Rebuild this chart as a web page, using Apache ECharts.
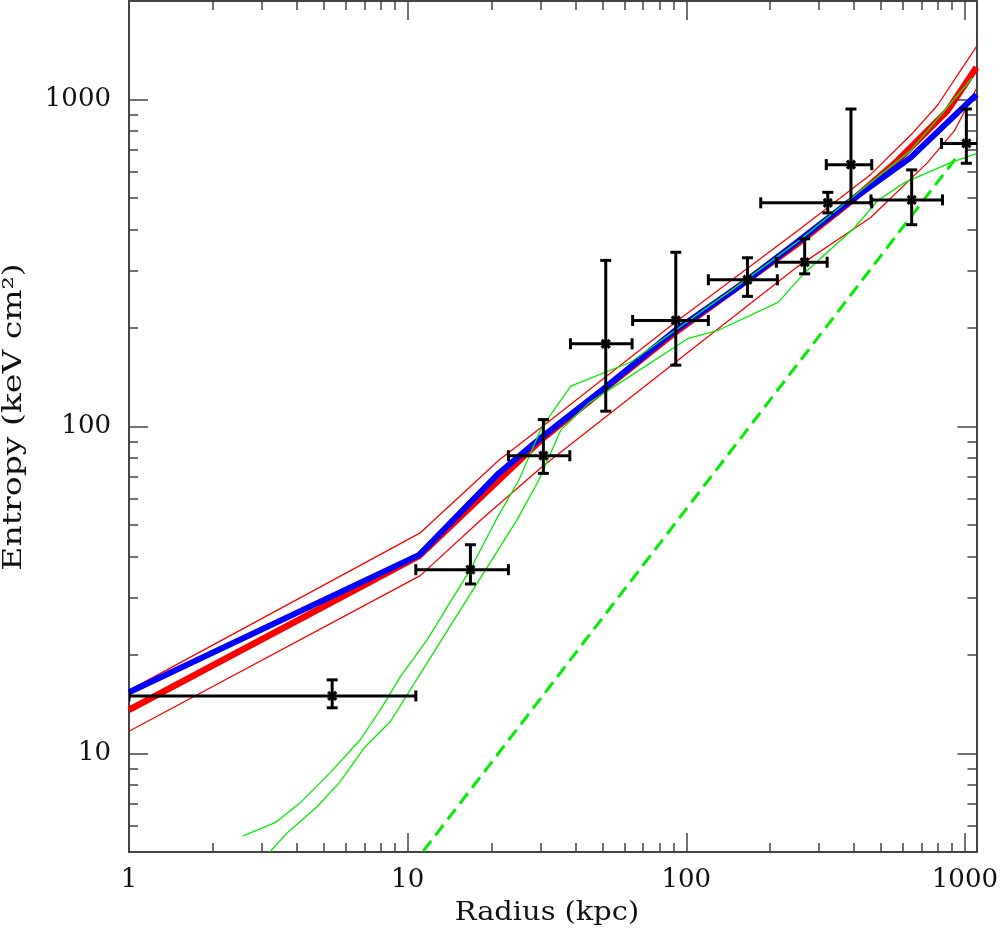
<!DOCTYPE html>
<html>
<head>
<meta charset="utf-8">
<script src="https://cdn.jsdelivr.net/npm/echarts@6/dist/echarts.min.js"></script>
<style>
html,body{margin:0;padding:0;background:#fff;}
#chart{width:1001px;height:930px;}
</style>
</head>
<body>
<div id="chart"></div>
<script>
// ---------- data ----------
const xRange = [1, 1100];
const yRange = [5, 2000];
const xMajorTicks = [1, 10, 100, 1000];
const xMinorTicks = [2,3,4,5,6,7,8,9,20,30,40,50,60,70,80,90,200,300,400,500,600,700,800,900];
const yMajorTicks = [10, 100, 1000];
const yMinorTicks = [6,7,8,9,20,30,40,50,60,70,80,90,200,300,400,500,600,700,800,900];
const xTitle = 'Radius (kpc)';
const yTitle = 'Entropy (keV cm²)';

// observed points: radius, entropy, radius low/high, entropy low/high
const obsR    = [5.36, 16.8, 30.7, 51.4, 91.7, 165.8, 266, 322, 390, 644, 1012];
const obsK    = [15.0, 36.5, 81.4, 179, 211, 281, 318, 483, 632, 493, 734];
const obsRlo  = [1.0, 10.7, 23.0, 38.4, 64.2, 120, 210.6, 185, 318, 460, 824];
const obsRhi  = [10.7, 23.0, 38.2, 63.9, 120, 212.3, 320.4, 463, 463, 831, 1117];
const obsKlo  = [13.8, 33.0, 71.9, 111.4, 154, 250, 293, 450, 485, 414, 638];
const obsKhi  = [16.8, 43.5, 105, 322, 341, 328, 375, 520, 935, 609, 935];

// model (thick blue)
const blueR = [1, 11.0, 21.3, 30.3, 51.4, 91.4, 153.6, 251.7, 389.5, 638.4, 1100];
const blueK = [15.4, 40.5, 72.1, 92.8, 131.9, 196.9, 266.9, 367.9, 490.8, 663.8, 1035];
// model (thick red) and its band
const redR = [1, 11.0, 30.3, 91.4, 251.7, 389.5, 573.6, 865.9, 1100];
const redK = [13.6, 40.2, 91.5, 194.1, 362.8, 487.3, 650, 923.6, 1255];
const redUpR = [1, 11.1, 21.3, 30.3, 91.4, 251.7, 459.2, 650, 797.3, 1100];
const redUpK = [15.6, 47.3, 79.0, 99.6, 208.2, 397.5, 590, 790, 960, 1450];
const redLoR = [1, 11.1, 18.3, 30.3, 91.4, 251.7, 459.2, 734.1, 917.4, 1100];
const redLoK = [11.7, 35.0, 51.8, 75.2, 157.2, 308.8, 435.5, 641, 802.6, 1080];
// green thin profiles
const greenAR = [2.56, 3.36, 4.13, 5.29, 6.77, 7.99, 9.42, 11.76, 16.76, 20.76, 25.08, 30.33, 38.5, 63.1, 91.4, 153.6, 251.7, 389.5, 638.4, 1063];
const greenAK = [5.59, 6.16, 7.09, 8.76, 11.04, 13.63, 17.19, 22.29, 36.46, 51.8, 68.6, 99.6, 132.8, 157.2, 196.9, 270.1, 367.9, 497.7, 697.5, 1165];
const greenBR = [3.2, 3.71, 4.75, 5.74, 7.0, 8.67, 11.76, 24.69, 29.58, 35.45, 44.66, 101.7, 130.2, 213.5, 266.7, 402.5, 486.4, 607.6, 887.7, 1100];
const greenBK = [5.0, 5.74, 6.90, 8.22, 10.44, 12.53, 18.97, 51.8, 68.6, 97.5, 117.9, 186.1, 196.9, 239.7, 295.9, 406, 490.8, 556.9, 641, 683];
// baseline (dashed green)
const baseR = [11.38, 953.5];
const baseK = [5.03, 681.5];

// ---------- chart ----------
const FONT = 'DejaVu Serif';
const AX = '#444';
const zip = (a, b) => a.map((v, i) => [v, b[i]]);
const obsData = obsR.map((r, i) => [r, obsK[i], obsRlo[i], obsRhi[i], obsKlo[i], obsKhi[i]]);

function logAxis(extra, range) {
  return Object.assign({
    type: 'log', logBase: 10, min: range[0], max: range[1],
    splitLine: {show: false},
    axisLine: {show: false},
    axisLabel: {show: false},
    axisTick: {show: false}
  }, extra);
}
function majorTick(vals) { return {show: true, inside: true, length: 19, customValues: vals, lineStyle: {color: AX, width: 1.5}}; }
function minorTick(vals) { return {show: true, inside: true, length: 9, customValues: vals, lineStyle: {color: AX, width: 1.5}}; }
const lbl = {fontFamily: FONT, fontSize: 26, color: '#111'};

const option = {
  animation: false,
  backgroundColor: '#fff',
  grid: {left: 129, right: 21, top: 1, bottom: 78, containLabel: false},
  graphic: [
    {type: 'text', x: 547, y: 913, scaleX: 1.11, silent: true,
     style: {text: xTitle, font: '26px "DejaVu Serif"', fill: '#111', align: 'center', verticalAlign: 'middle'}},
    {type: 'text', x: 14, y: 417, rotation: Math.PI / 2, scaleX: 1.27, silent: true,
     style: {text: yTitle, font: '26px "DejaVu Serif"', fill: '#111', align: 'center', verticalAlign: 'middle'}}
  ],
  xAxis: [
    logAxis({
      position: 'bottom',
      axisLine: {show: true, onZero: false, lineStyle: {color: AX, width: 2}},
      axisTick: majorTick(xMajorTicks),
      axisLabel: Object.assign({show: true, customValues: xMajorTicks, margin: 15, formatter: v => String(v)}, lbl)
    }, xRange),
    logAxis({position: 'bottom', axisTick: minorTick(xMinorTicks)}, xRange),
    logAxis({position: 'top', axisLine: {show: true, onZero: false, lineStyle: {color: AX, width: 2}}, axisTick: majorTick(xMajorTicks)}, xRange),
    logAxis({position: 'top', axisTick: minorTick(xMinorTicks)}, xRange)
  ],
  yAxis: [
    logAxis({
      position: 'left',
      axisLine: {show: true, onZero: false, lineStyle: {color: AX, width: 2}},
      axisTick: majorTick(yMajorTicks),
      axisLabel: Object.assign({show: true, customValues: yMajorTicks, margin: 18, formatter: v => String(v)}, lbl)
    }, yRange),
    logAxis({position: 'left', axisTick: minorTick(yMinorTicks)}, yRange),
    logAxis({position: 'right', axisLine: {show: true, onZero: false, lineStyle: {color: AX, width: 2}}, axisTick: majorTick(yMajorTicks)}, yRange),
    logAxis({position: 'right', axisTick: minorTick(yMinorTicks)}, yRange)
  ],
  series: [
    {type: 'line', name: 'redUp', data: zip(redUpR, redUpK), showSymbol: false, symbol: 'none', clip: true, z: 2,
     lineStyle: {color: '#ff0000', width: 1.3}},
    {type: 'line', name: 'redLo', data: zip(redLoR, redLoK), showSymbol: false, symbol: 'none', clip: true, z: 2,
     lineStyle: {color: '#ff0000', width: 1.3}},
    {type: 'line', name: 'red', data: zip(redR, redK), showSymbol: false, symbol: 'none', clip: true, z: 3,
     lineStyle: {color: '#ff0000', width: 6.5}},
    {type: 'line', name: 'blue', data: zip(blueR, blueK), showSymbol: false, symbol: 'none', clip: true, z: 4,
     lineStyle: {color: '#0000ff', width: 6}},
    {type: 'line', name: 'greenA', data: zip(greenAR, greenAK), showSymbol: false, symbol: 'none', clip: true, z: 5,
     lineStyle: {color: '#00ee00', width: 1.3}},
    {type: 'line', name: 'greenB', data: zip(greenBR, greenBK), showSymbol: false, symbol: 'none', clip: true, z: 5,
     lineStyle: {color: '#00ee00', width: 1.3}},
    {type: 'line', name: 'baseline', data: zip(baseR, baseK), showSymbol: false, symbol: 'none', clip: true, z: 5,
     lineStyle: {color: '#00ee00', width: 3, type: [13, 7]}},
    {type: 'custom', name: 'observed', data: obsData, clip: true, z: 6,
     renderItem: function (params, api) {
       const x = api.value(0), y = api.value(1);
       const c = api.coord([x, y]);
       const l = api.coord([api.value(2), y]);
       const r = api.coord([api.value(3), y]);
       const b = api.coord([x, api.value(4)]);
       const t = api.coord([x, api.value(5)]);
       const cap = 5.5, s = 4;
       const st = {stroke: '#000', lineWidth: 3};
       const ln = (x1, y1, x2, y2, w) => ({type: 'line', shape: {x1, y1, x2, y2}, style: w ? {stroke: '#000', lineWidth: w} : st});
       return {type: 'group', children: [
         ln(l[0], l[1], r[0], r[1]),
         ln(l[0], l[1] - cap, l[0], l[1] + cap),
         ln(r[0], r[1] - cap, r[0], r[1] + cap),
         ln(b[0], b[1], t[0], t[1]),
         ln(b[0] - cap, b[1], b[0] + cap, b[1]),
         ln(t[0] - cap, t[1], t[0] + cap, t[1]),
         ln(c[0] - s, c[1] - s, c[0] + s, c[1] + s, 3.2),
         ln(c[0] - s, c[1] + s, c[0] + s, c[1] - s, 3.2)
       ]};
     }}
  ]
};
const chart = echarts.init(document.getElementById('chart'), null, {renderer: 'canvas'});
chart.setOption(option);
</script>
</body>
</html>
